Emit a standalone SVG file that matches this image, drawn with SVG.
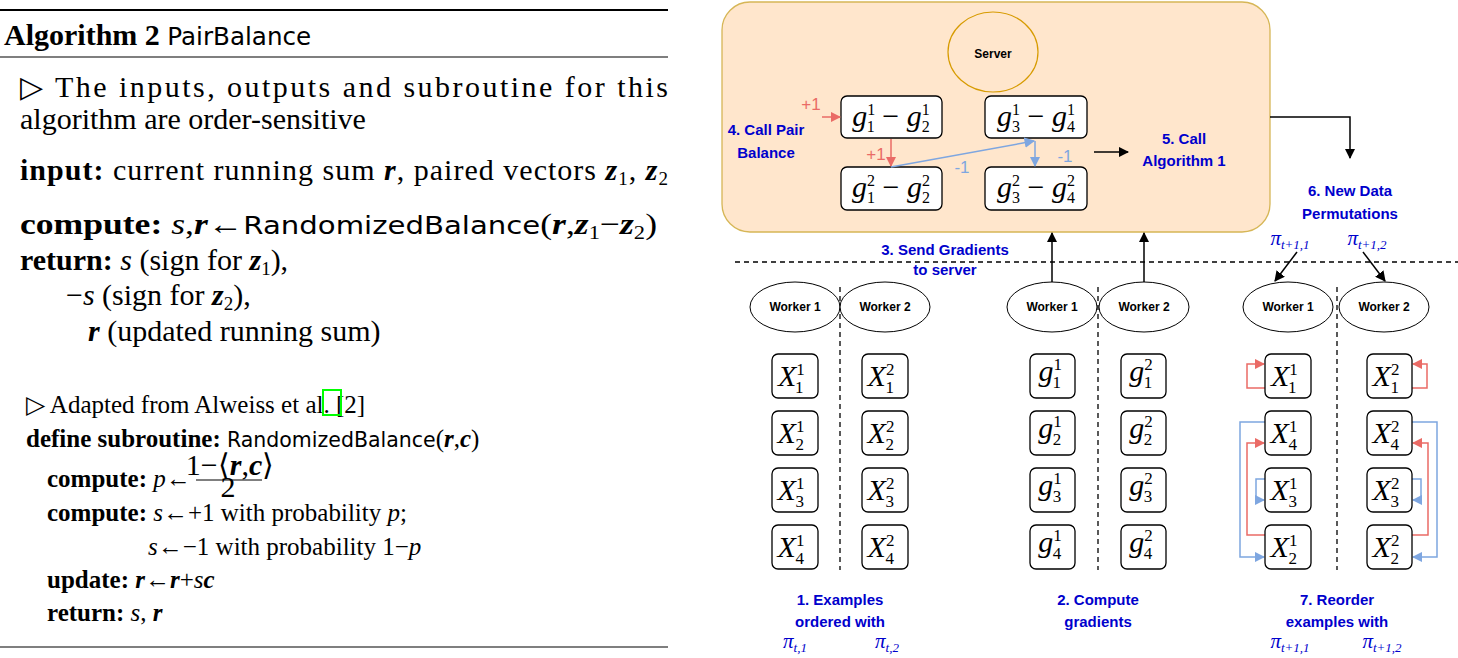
<svg xmlns="http://www.w3.org/2000/svg" width="1458" height="658" viewBox="0 0 1458 658">
<style>
.t{font-family:"Liberation Serif",serif;font-size:30px;fill:#000}
.s{font-size:25px}
.b{font-weight:bold}
.sf{font-family:"DejaVu Sans","Liberation Sans",sans-serif;font-size:0.82em}
.m{font-style:italic}
.bl{font-family:"Liberation Sans",sans-serif;font-weight:bold;font-size:15px;fill:#0000CC;text-anchor:middle}
.w{font-family:"Liberation Sans",sans-serif;font-weight:bold;font-size:12px;text-anchor:middle}
.mx{font-family:"Liberation Serif",serif;font-style:italic;font-size:30px;text-anchor:middle}
.mx tspan{font-style:normal}
.pi{font-family:"Liberation Serif",serif;font-style:italic;font-size:21px;fill:#0000CC;text-anchor:middle}
.box{fill:#fff;stroke:#000;stroke-width:1.3}
.red{fill:none;stroke:#EA6B66;stroke-width:1.5}
.blu{fill:none;stroke:#7EA6E0;stroke-width:1.5}
.blk{fill:none;stroke:#000;stroke-width:1.5}
.dash{stroke:#000;stroke-width:1.3;stroke-dasharray:5,4}
.lab{font-family:"Liberation Sans",sans-serif;font-size:17px;text-anchor:middle}
</style>
<defs>
<marker id="ar" viewBox="0 0 10 10" refX="9" refY="5" markerWidth="7" markerHeight="7" orient="auto"><path d="M0,0L10,5L0,10z" fill="#EA6B66"/></marker>
<marker id="ab" viewBox="0 0 10 10" refX="9" refY="5" markerWidth="7" markerHeight="7" orient="auto"><path d="M0,0L10,5L0,10z" fill="#7EA6E0"/></marker>
<marker id="ak" viewBox="0 0 10 10" refX="9" refY="5" markerWidth="7" markerHeight="7" orient="auto"><path d="M0,0L10,5L0,10z" fill="#000"/></marker>
</defs>
<g id="algorithm">
<line x1="0" y1="10" x2="668" y2="10" stroke="#000" stroke-width="2"/>
<line x1="0" y1="57" x2="668" y2="57" stroke="#000" stroke-width="1.2"/>
<line x1="0" y1="647" x2="668" y2="647" stroke="#000" stroke-width="1.2"/>
<text x="4" y="45" class="t" font-size="28"><tspan class="b">Algorithm 2</tspan> <tspan class="sf">PairBalance</tspan></text>
<text x="20" y="97" class="t" textLength="648" lengthAdjust="spacing">▷ The inputs, outputs and subroutine for this</text>
<text x="20" y="129" class="t">algorithm are order-sensitive</text>
<text x="20" y="180" class="t" textLength="648" lengthAdjust="spacing"><tspan class="b">input:</tspan> current running sum <tspan class="b m">r</tspan>, paired vectors <tspan class="b m">z</tspan><tspan font-size="19" dy="5">1</tspan><tspan dy="-5">, </tspan><tspan class="b m">z</tspan><tspan font-size="19" dy="5">2</tspan></text>
<text x="20" y="234" class="t" textLength="637" lengthAdjust="spacingAndGlyphs"><tspan class="b">compute:</tspan> <tspan class="m">s</tspan>,<tspan class="b m">r</tspan>←<tspan class="sf">RandomizedBalance</tspan>(<tspan class="b m">r</tspan>,<tspan class="b m">z</tspan><tspan font-size="19" dy="5">1</tspan><tspan dy="-5">−</tspan><tspan class="b m">z</tspan><tspan font-size="19" dy="5">2</tspan><tspan dy="-5">)</tspan></text>
<text x="20" y="270" class="t"><tspan class="b">return:</tspan> <tspan class="m">s</tspan> (sign for <tspan class="b m">z</tspan><tspan font-size="19" dy="5">1</tspan><tspan dy="-5">),</tspan></text>
<text x="66" y="305" class="t">−<tspan class="m">s</tspan> (sign for <tspan class="b m">z</tspan><tspan font-size="19" dy="5">2</tspan><tspan dy="-5">),</tspan></text>
<text x="88" y="341" class="t"><tspan class="b m">r</tspan> (updated running sum)</text>
<text x="26" y="413" class="t s">▷ Adapted from Alweiss et al. [2]</text>
<rect x="323" y="390" width="18" height="25" fill="none" stroke="#00FF00" stroke-width="2"/>
<text x="26" y="447" class="t s"><tspan class="b">define subroutine:</tspan> <tspan class="sf">RandomizedBalance</tspan>(<tspan class="b m">r</tspan>,<tspan class="b m">c</tspan>)</text>
<text x="47" y="487" class="t s"><tspan class="b">compute:</tspan> <tspan class="m">p</tspan>←</text>
<text x="230" y="475" class="t" font-size="14" text-anchor="middle">1−⟨<tspan class="b m">r</tspan>,<tspan class="b m">c</tspan>⟩</text>
<line x1="196" y1="480" x2="262" y2="480" stroke="#000" stroke-width="1"/>
<text x="228" y="497" class="t" font-size="14" text-anchor="middle">2</text>
<text x="47" y="521" class="t s"><tspan class="b">compute:</tspan> <tspan class="m">s</tspan>←+1  with probability  <tspan class="m">p</tspan>;</text>
<text x="148" y="555" class="t s"><tspan class="m">s</tspan>←−1  with probability  1−<tspan class="m">p</tspan></text>
<text x="47" y="588" class="t s"><tspan class="b">update:</tspan> <tspan class="b m">r</tspan>←<tspan class="b m">r</tspan>+<tspan class="m">s</tspan><tspan class="b m">c</tspan></text>
<text x="47" y="621" class="t s"><tspan class="b">return:</tspan> <tspan class="m">s</tspan>, <tspan class="b m">r</tspan></text>
</g>

<g id="serverbox">
<rect x="722" y="2" width="548" height="230" rx="28" fill="#FFE6CC" stroke="#D6B656" stroke-width="1.3"/>
</g>
<g id="server"><ellipse cx="993" cy="52" rx="45" ry="40" fill="#FFE6CC" stroke="#D79B00" stroke-width="1.2"/><text x="993" y="58" class="w" font-size="15">Server</text></g>
<g id="p1"><rect x="841" y="96" width="101" height="42" rx="6" class="box"/><text x="891" y="126" class="mx">g<tspan font-size="16" dy="-11">1</tspan><tspan font-size="16" dx="-8" dy="17">1</tspan><tspan dy="-6"> − </tspan>g<tspan font-size="16" dy="-11">1</tspan><tspan font-size="16" dx="-8" dy="17">2</tspan></text></g>
<g id="p2"><rect x="985" y="96" width="102" height="42" rx="6" class="box"/><text x="1036" y="126" class="mx">g<tspan font-size="16" dy="-11">1</tspan><tspan font-size="16" dx="-8" dy="17">3</tspan><tspan dy="-6"> − </tspan>g<tspan font-size="16" dy="-11">1</tspan><tspan font-size="16" dx="-8" dy="17">4</tspan></text></g>
<g id="p3"><rect x="841" y="167" width="101" height="43" rx="6" class="box"/><text x="891" y="197" class="mx">g<tspan font-size="16" dy="-11">2</tspan><tspan font-size="16" dx="-8" dy="17">1</tspan><tspan dy="-6"> − </tspan>g<tspan font-size="16" dy="-11">2</tspan><tspan font-size="16" dx="-8" dy="17">2</tspan></text></g>
<g id="p4"><rect x="985" y="167" width="102" height="43" rx="6" class="box"/><text x="1036" y="197" class="mx">g<tspan font-size="16" dy="-11">2</tspan><tspan font-size="16" dx="-8" dy="17">3</tspan><tspan dy="-6"> − </tspan>g<tspan font-size="16" dy="-11">2</tspan><tspan font-size="16" dx="-8" dy="17">4</tspan></text></g>

<g id="labels">
<text x="766" y="135" class="bl">4. Call Pair</text><text x="766" y="158" class="bl">Balance</text>
<text x="1184" y="144" class="bl">5. Call</text><text x="1184" y="166" class="bl">Algorithm 1</text>
<text x="1350" y="196" class="bl">6. New Data</text><text x="1350" y="219" class="bl">Permutations</text>
<text x="945" y="255" class="bl">3. Send Gradients</text><text x="945" y="275" class="bl">to server</text>
<text x="840" y="605" class="bl">1. Examples</text><text x="840" y="627" class="bl">ordered with</text>
<text x="1098" y="605" class="bl">2. Compute</text><text x="1098" y="627" class="bl">gradients</text>
<text x="1337" y="605" class="bl">7. Reorder</text><text x="1337" y="627" class="bl">examples with</text>
<text x="1290" y="245" class="pi">π<tspan font-size="13" dy="4">t+1,1</tspan></text>
<text x="1367" y="245" class="pi">π<tspan font-size="13" dy="4">t+1,2</tspan></text>
<text x="795" y="648" class="pi">π<tspan font-size="13" dy="4">t,1</tspan></text>
<text x="887" y="648" class="pi">π<tspan font-size="13" dy="4">t,2</tspan></text>
<text x="1290" y="648" class="pi">π<tspan font-size="13" dy="4">t+1,1</tspan></text>
<text x="1382" y="648" class="pi">π<tspan font-size="13" dy="4">t+1,2</tspan></text>
<text x="811" y="110" class="lab" fill="#EA6B66">+1</text>
<text x="876" y="160" class="lab" fill="#EA6B66">+1</text>
<text x="962" y="173" class="lab" fill="#7EA6E0">-1</text>
<text x="1065" y="162" class="lab" fill="#7EA6E0">-1</text>
</g>

<g id="connectors">
<line x1="822" y1="117" x2="840" y2="117" class="red" marker-end="url(#ar)"/>
<line x1="891" y1="139" x2="891" y2="166" class="red" marker-end="url(#ar)"/>
<line x1="891" y1="167" x2="1034" y2="141" class="blu" marker-end="url(#ab)"/>
<line x1="1035" y1="141" x2="1035" y2="166" class="blu" marker-end="url(#ab)"/>
<line x1="1094" y1="152" x2="1128" y2="152" class="blk" marker-end="url(#ak)"/>
<path d="M1270,117H1350V158" class="blk" marker-end="url(#ak)"/>
<line x1="1052" y1="283" x2="1052" y2="233" class="blk" marker-end="url(#ak)"/>
<line x1="1144" y1="283" x2="1144" y2="233" class="blk" marker-end="url(#ak)"/>
<line x1="1297" y1="252" x2="1275" y2="281" class="blk" marker-end="url(#ak)"/>
<line x1="1363" y1="252" x2="1385" y2="281" class="blk" marker-end="url(#ak)"/>
<line x1="735" y1="262" x2="1458" y2="262" class="dash"/>
<line x1="840" y1="287" x2="840" y2="570" class="dash"/>
<line x1="1098" y1="287" x2="1098" y2="570" class="dash"/>
<line x1="1337" y1="287" x2="1337" y2="570" class="dash"/>
<path d="M1265,388H1247V364H1264" class="red" marker-end="url(#ar)"/>
<path d="M1265,422H1240V557H1264" class="blu" marker-end="url(#ab)"/>
<path d="M1265,535H1247V443H1264" class="red" marker-end="url(#ar)"/>
<path d="M1265,479H1256V500H1264" class="blu" marker-end="url(#ab)"/>
<path d="M1412,388H1427V364H1413" class="red" marker-end="url(#ar)"/>
<path d="M1412,422H1437V557H1413" class="blu" marker-end="url(#ab)"/>
<path d="M1412,535H1428V443H1413" class="red" marker-end="url(#ar)"/>
<path d="M1412,479H1421V500H1413" class="blu" marker-end="url(#ab)"/>
</g>

<g id="workers">
<g id="w1a"><ellipse cx="795" cy="307" rx="45" ry="25" fill="#fff" stroke="#000"/><text x="795" y="311" class="w">Worker 1</text></g>
<g id="w2a"><ellipse cx="885" cy="307" rx="45" ry="25" fill="#fff" stroke="#000"/><text x="885" y="311" class="w">Worker 2</text></g>
<g id="w1b"><ellipse cx="1052" cy="307" rx="45" ry="25" fill="#fff" stroke="#000"/><text x="1052" y="311" class="w">Worker 1</text></g>
<g id="w2b"><ellipse cx="1144" cy="307" rx="45" ry="25" fill="#fff" stroke="#000"/><text x="1144" y="311" class="w">Worker 2</text></g>
<g id="w1c"><ellipse cx="1288" cy="307" rx="45" ry="25" fill="#fff" stroke="#000"/><text x="1288" y="311" class="w">Worker 1</text></g>
<g id="w2c"><ellipse cx="1384" cy="307" rx="45" ry="25" fill="#fff" stroke="#000"/><text x="1384" y="311" class="w">Worker 2</text></g>
</g>

<g id="items">
<g id="x11"><rect x="772" y="354" width="46" height="44" rx="6" class="box"/><text x="791" y="386" class="mx">X<tspan font-size="17" dy="-11">1</tspan><tspan font-size="17" dx="-9" dy="18">1</tspan></text></g>
<g id="x12"><rect x="772" y="411" width="46" height="44" rx="6" class="box"/><text x="791" y="443" class="mx">X<tspan font-size="17" dy="-11">1</tspan><tspan font-size="17" dx="-9" dy="18">2</tspan></text></g>
<g id="x13"><rect x="772" y="468" width="46" height="44" rx="6" class="box"/><text x="791" y="500" class="mx">X<tspan font-size="17" dy="-11">1</tspan><tspan font-size="17" dx="-9" dy="18">3</tspan></text></g>
<g id="x14"><rect x="772" y="525" width="46" height="44" rx="6" class="box"/><text x="791" y="557" class="mx">X<tspan font-size="17" dy="-11">1</tspan><tspan font-size="17" dx="-9" dy="18">4</tspan></text></g>
<g id="x21"><rect x="862" y="354" width="46" height="44" rx="6" class="box"/><text x="881" y="386" class="mx">X<tspan font-size="17" dy="-11">2</tspan><tspan font-size="17" dx="-9" dy="18">1</tspan></text></g>
<g id="x22"><rect x="862" y="411" width="46" height="44" rx="6" class="box"/><text x="881" y="443" class="mx">X<tspan font-size="17" dy="-11">2</tspan><tspan font-size="17" dx="-9" dy="18">2</tspan></text></g>
<g id="x23"><rect x="862" y="468" width="46" height="44" rx="6" class="box"/><text x="881" y="500" class="mx">X<tspan font-size="17" dy="-11">2</tspan><tspan font-size="17" dx="-9" dy="18">3</tspan></text></g>
<g id="x24"><rect x="862" y="525" width="46" height="44" rx="6" class="box"/><text x="881" y="557" class="mx">X<tspan font-size="17" dy="-11">2</tspan><tspan font-size="17" dx="-9" dy="18">4</tspan></text></g>
<g id="g11"><rect x="1030" y="354" width="45" height="44" rx="6" class="box"/><text x="1050" y="381" class="mx">g<tspan font-size="17" dy="-11">1</tspan><tspan font-size="17" dx="-9" dy="18">1</tspan></text></g>
<g id="g12"><rect x="1030" y="411" width="45" height="44" rx="6" class="box"/><text x="1050" y="438" class="mx">g<tspan font-size="17" dy="-11">1</tspan><tspan font-size="17" dx="-9" dy="18">2</tspan></text></g>
<g id="g13"><rect x="1030" y="468" width="45" height="44" rx="6" class="box"/><text x="1050" y="495" class="mx">g<tspan font-size="17" dy="-11">1</tspan><tspan font-size="17" dx="-9" dy="18">3</tspan></text></g>
<g id="g14"><rect x="1030" y="525" width="45" height="44" rx="6" class="box"/><text x="1050" y="552" class="mx">g<tspan font-size="17" dy="-11">1</tspan><tspan font-size="17" dx="-9" dy="18">4</tspan></text></g>
<g id="g21"><rect x="1121" y="354" width="45" height="44" rx="6" class="box"/><text x="1141" y="381" class="mx">g<tspan font-size="17" dy="-11">2</tspan><tspan font-size="17" dx="-9" dy="18">1</tspan></text></g>
<g id="g22"><rect x="1121" y="411" width="45" height="44" rx="6" class="box"/><text x="1141" y="438" class="mx">g<tspan font-size="17" dy="-11">2</tspan><tspan font-size="17" dx="-9" dy="18">2</tspan></text></g>
<g id="g23"><rect x="1121" y="468" width="45" height="44" rx="6" class="box"/><text x="1141" y="495" class="mx">g<tspan font-size="17" dy="-11">2</tspan><tspan font-size="17" dx="-9" dy="18">3</tspan></text></g>
<g id="g24"><rect x="1121" y="525" width="45" height="44" rx="6" class="box"/><text x="1141" y="552" class="mx">g<tspan font-size="17" dy="-11">2</tspan><tspan font-size="17" dx="-9" dy="18">4</tspan></text></g>
<g id="y11"><rect x="1265" y="354" width="46" height="44" rx="6" class="box"/><text x="1284" y="386" class="mx">X<tspan font-size="17" dy="-11">1</tspan><tspan font-size="17" dx="-9" dy="18">1</tspan></text></g>
<g id="y14"><rect x="1265" y="411" width="46" height="44" rx="6" class="box"/><text x="1284" y="443" class="mx">X<tspan font-size="17" dy="-11">1</tspan><tspan font-size="17" dx="-9" dy="18">4</tspan></text></g>
<g id="y13"><rect x="1265" y="468" width="46" height="44" rx="6" class="box"/><text x="1284" y="500" class="mx">X<tspan font-size="17" dy="-11">1</tspan><tspan font-size="17" dx="-9" dy="18">3</tspan></text></g>
<g id="y12"><rect x="1265" y="525" width="46" height="44" rx="6" class="box"/><text x="1284" y="557" class="mx">X<tspan font-size="17" dy="-11">1</tspan><tspan font-size="17" dx="-9" dy="18">2</tspan></text></g>
<g id="y21"><rect x="1367" y="354" width="45" height="44" rx="6" class="box"/><text x="1386" y="386" class="mx">X<tspan font-size="17" dy="-11">2</tspan><tspan font-size="17" dx="-9" dy="18">1</tspan></text></g>
<g id="y24"><rect x="1367" y="411" width="45" height="44" rx="6" class="box"/><text x="1386" y="443" class="mx">X<tspan font-size="17" dy="-11">2</tspan><tspan font-size="17" dx="-9" dy="18">4</tspan></text></g>
<g id="y23"><rect x="1367" y="468" width="45" height="44" rx="6" class="box"/><text x="1386" y="500" class="mx">X<tspan font-size="17" dy="-11">2</tspan><tspan font-size="17" dx="-9" dy="18">3</tspan></text></g>
<g id="y22"><rect x="1367" y="525" width="45" height="44" rx="6" class="box"/><text x="1386" y="557" class="mx">X<tspan font-size="17" dy="-11">2</tspan><tspan font-size="17" dx="-9" dy="18">2</tspan></text></g>
</g>
</svg>
